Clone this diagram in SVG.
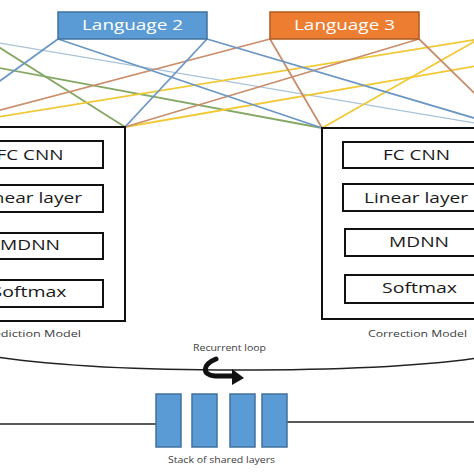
<svg xmlns="http://www.w3.org/2000/svg" width="474" height="474" viewBox="0 0 474 474">
<style>
.bg{fill:#ffffff}
.lbox{stroke-width:1.5}
.blue{fill:#5b9bd5;stroke:#41719c}
.orange{fill:#ed7d31;stroke:#ae5a21}
.ltxt{font-family:"Open Sans","Liberation Sans",sans-serif;font-size:14px;fill:#ffffff;text-anchor:middle}
.outer{fill:none;stroke:#111111;stroke-width:2}
.inner{fill:#ffffff;stroke:#111111;stroke-width:2}
.itxt{font-family:"Open Sans","Liberation Sans",sans-serif;font-size:14px;fill:#1a1a1a;text-anchor:middle}
.cap{font-family:"Open Sans","Liberation Sans",sans-serif;font-size:8.5px;fill:#404040;text-anchor:middle}
.c{fill:none;stroke-width:1.8}
.cb{stroke:#6b97c4}
.co{stroke:#c98e6c}
.cg{stroke:#86a866}
.cl{stroke:#a9c2d6;stroke-width:1.2}
.cy{stroke:#f1c935}
.wire{fill:none;stroke:#222222;stroke-width:1.4}
</style>
<rect class="bg" x="0" y="0" width="474" height="474"/>
<g id="connectors">
<line class="c cg" x1="-156" y1="39" x2="322" y2="128"/>
<line class="c cg" x1="-14" y1="39" x2="125" y2="127"/>
<line class="c cl" x1="-24" y1="39" x2="511" y2="129"/>
<line class="c cy" x1="479" y1="39" x2="-64" y2="127"/>
<line class="c cy" x1="479" y1="39" x2="322" y2="128"/>
<line class="c cy" x1="631" y1="39" x2="125" y2="127"/>
<line class="c co" x1="270" y1="39" x2="-64" y2="127"/>
<line class="c co" x1="270" y1="39" x2="322" y2="128"/>
<line class="c co" x1="419" y1="39" x2="125" y2="127"/>
<line class="c co" x1="419" y1="39" x2="511" y2="129"/>
<line class="c cb" x1="58" y1="39" x2="-64" y2="127"/>
<line class="c cb" x1="58" y1="39" x2="322" y2="128"/>
<line class="c cb" x1="207" y1="39" x2="125" y2="127"/>
<line class="c cb" x1="207" y1="39" x2="511" y2="129"/>
<path class="wire" d="M -10 356 Q 80 370 237 370 Q 400 370 484 357"/>
<line class="wire" x1="0" y1="424" x2="156" y2="424"/>
<line class="wire" x1="287" y1="422" x2="474" y2="422"/>
<path d="M 216 359 C 203 364 201 375 215 376 L 233 376" fill="none" stroke="#111111" stroke-width="5" stroke-linecap="round"/>
<polygon points="232,369 244,378 232,385" fill="#111111"/>
</g>
<g id="language2">
<rect class="lbox blue" x="58" y="12" width="149" height="27"/>
<text class="ltxt" x="132.5" y="30" textLength="101" lengthAdjust="spacingAndGlyphs">Language 2</text>
</g>
<g id="language3">
<rect class="lbox orange" x="270" y="12" width="149" height="27"/>
<text class="ltxt" x="344.5" y="30" textLength="101" lengthAdjust="spacingAndGlyphs">Language 3</text>
</g>
<g id="prediction-model">
<rect class="outer" x="-64" y="127" width="189" height="194"/>
<rect class="inner" x="-43" y="141" width="146" height="27"/>
<text class="itxt" x="30" y="159.5" textLength="67" lengthAdjust="spacingAndGlyphs">FC CNN</text>
<rect class="inner" x="-43" y="185" width="146" height="27"/>
<text class="itxt" x="30" y="203" textLength="104" lengthAdjust="spacingAndGlyphs">Linear layer</text>
<rect class="inner" x="-43" y="233" width="146" height="26"/>
<text class="itxt" x="30" y="250" textLength="60" lengthAdjust="spacingAndGlyphs">MDNN</text>
<rect class="inner" x="-43" y="280" width="146" height="27"/>
<text class="itxt" x="29" y="297" textLength="75" lengthAdjust="spacingAndGlyphs">Softmax</text>
<text class="cap" x="31" y="337" textLength="100" lengthAdjust="spacingAndGlyphs">Prediction Model</text>
</g>
<g id="correction-model">
<rect class="outer" x="322" y="128" width="189" height="191"/>
<rect class="inner" x="343" y="142" width="146" height="26"/>
<text class="itxt" x="416.5" y="160" textLength="67" lengthAdjust="spacingAndGlyphs">FC CNN</text>
<rect class="inner" x="343" y="184" width="146" height="27"/>
<text class="itxt" x="416" y="203" textLength="104" lengthAdjust="spacingAndGlyphs">Linear layer</text>
<rect class="inner" x="345" y="229" width="146" height="27"/>
<text class="itxt" x="419" y="247" textLength="60" lengthAdjust="spacingAndGlyphs">MDNN</text>
<rect class="inner" x="345" y="275" width="146" height="28"/>
<text class="itxt" x="419.5" y="293" textLength="75" lengthAdjust="spacingAndGlyphs">Softmax</text>
<text class="cap" x="417.5" y="337" textLength="99" lengthAdjust="spacingAndGlyphs">Correction Model</text>
</g>
<g id="recurrent-loop">
<text class="cap" x="229.5" y="351" textLength="73" lengthAdjust="spacingAndGlyphs">Recurrent loop</text>
</g>
<g id="shared-stack">
<rect class="lbox blue" x="156" y="394" width="25" height="53"/>
<rect class="lbox blue" x="192" y="394" width="25" height="53"/>
<rect class="lbox blue" x="230" y="394" width="25" height="53"/>
<rect class="lbox blue" x="262" y="394" width="25" height="53"/>
<text class="cap" x="221.5" y="463" textLength="107" lengthAdjust="spacingAndGlyphs">Stack of shared layers</text>
</g>
</svg>
